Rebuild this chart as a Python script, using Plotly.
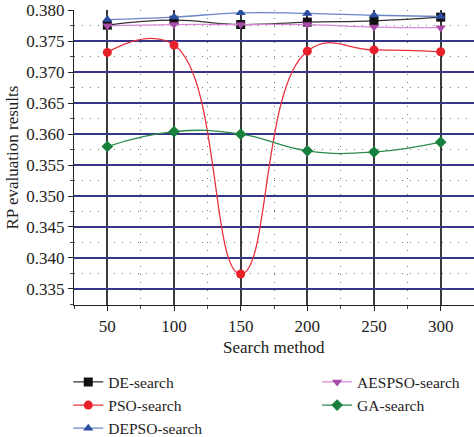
import plotly.graph_objects as go

# search sizes on the x axis
sizes = [50, 100, 150, 200, 250, 300]

# RP evaluation results
de_search = [0.3776, 0.3784, 0.3777, 0.3781, 0.3783, 0.3789]
pso_search = [0.3732, 0.3744, 0.3374, 0.3734, 0.3736, 0.3733]
depso_search = [0.3785, 0.3789, 0.3796, 0.3795, 0.3792, 0.3790]
aespso_search = [0.3775, 0.3777, 0.3777, 0.3777, 0.3773, 0.3772]
ga_search = [0.3580, 0.3604, 0.3600, 0.3573, 0.3571, 0.3587]

serif = "Liberation Serif"

series = [
    ("DE-search", de_search, "#333333", "#111111", "square", "legend"),
    ("PSO-search", pso_search, "#e8303c", "#e8202a", "circle", "legend"),
    ("DEPSO-search", depso_search, "#6a86c8", "#2b4ea2", "triangle-up", "legend"),
    ("AESPSO-search", aespso_search, "#d68ad6", "#a84aa8", "triangle-down", "legend2"),
    ("GA-search", ga_search, "#2a8a4a", "#17803c", "diamond", "legend2"),
]

fig = go.Figure()
for name, vals, lcol, mcol, sym, leg in series:
    fig.add_trace(go.Scatter(
        x=sizes, y=vals, name=name, mode="lines+markers",
        line=dict(color=lcol, width=1.3, shape="spline", smoothing=1.3),
        marker=dict(symbol=sym, size=9, color=mcol),
        legend=leg,
    ))

fig.update_layout(
    width=474, height=437,
    margin=dict(l=74, r=0, t=10, b=132, autoexpand=False),
    plot_bgcolor="white", paper_bgcolor="white",
    font=dict(family=serif, size=17, color="#222222"),
    legend=dict(x=0.144, y=0.164, xref="container", yref="container",
                xanchor="left", yanchor="top",
                bgcolor="rgba(0,0,0,0)", font=dict(size=15.5), tracegroupgap=0),
    legend2=dict(x=0.669, y=0.164, xref="container", yref="container",
                 xanchor="left", yanchor="top",
                 bgcolor="rgba(0,0,0,0)", font=dict(size=15.5), tracegroupgap=0),
)

# axis titles as annotations so they stay where the reference has them
fig.add_annotation(text="Search method", xref="paper", yref="paper", x=0.5, y=-0.145,
                   xanchor="center", yanchor="middle", showarrow=False,
                   font=dict(family=serif, size=17))
fig.add_annotation(text="RP evaluation results", xref="paper", yref="paper",
                   x=-0.155, y=0.5, textangle=-90, xanchor="center", yanchor="middle",
                   showarrow=False, font=dict(family=serif, size=17))

fig.update_xaxes(
    range=[25, 325], tickvals=sizes, showline=True, linecolor="#222222", linewidth=1.2,
    ticks="outside", ticklen=5, tickcolor="#222222",
    showgrid=True, gridcolor="#3a3a3a", gridwidth=1.5,
    minor=dict(dtick=25, tick0=25, ticks="outside", ticklen=3, tickcolor="#444444",
               showgrid=True, gridcolor="#777777", gridwidth=1.2, griddash="1px,7px"),
    automargin=False, zeroline=False,
)
fig.update_yaxes(
    range=[0.3324, 0.38005], dtick=0.005, tick0=0.335, tickformat=".3f",
    showline=True, linecolor="#222222", linewidth=1.2,
    ticks="outside", ticklen=5, tickcolor="#222222",
    showgrid=True, gridcolor="#35358a", gridwidth=1.6,
    minor=dict(dtick=0.0025, ticks="outside", ticklen=3, tickcolor="#444444",
               showgrid=True, gridcolor="#777777", gridwidth=1.2, griddash="1px,7px"),
    automargin=False, zeroline=False,
)

# drop the browser's default 8px body margin so the figure sits at the window corner
fig.write_html("out.html", config={"displayModeBar": False},
               post_script="document.body.style.margin='0';")
